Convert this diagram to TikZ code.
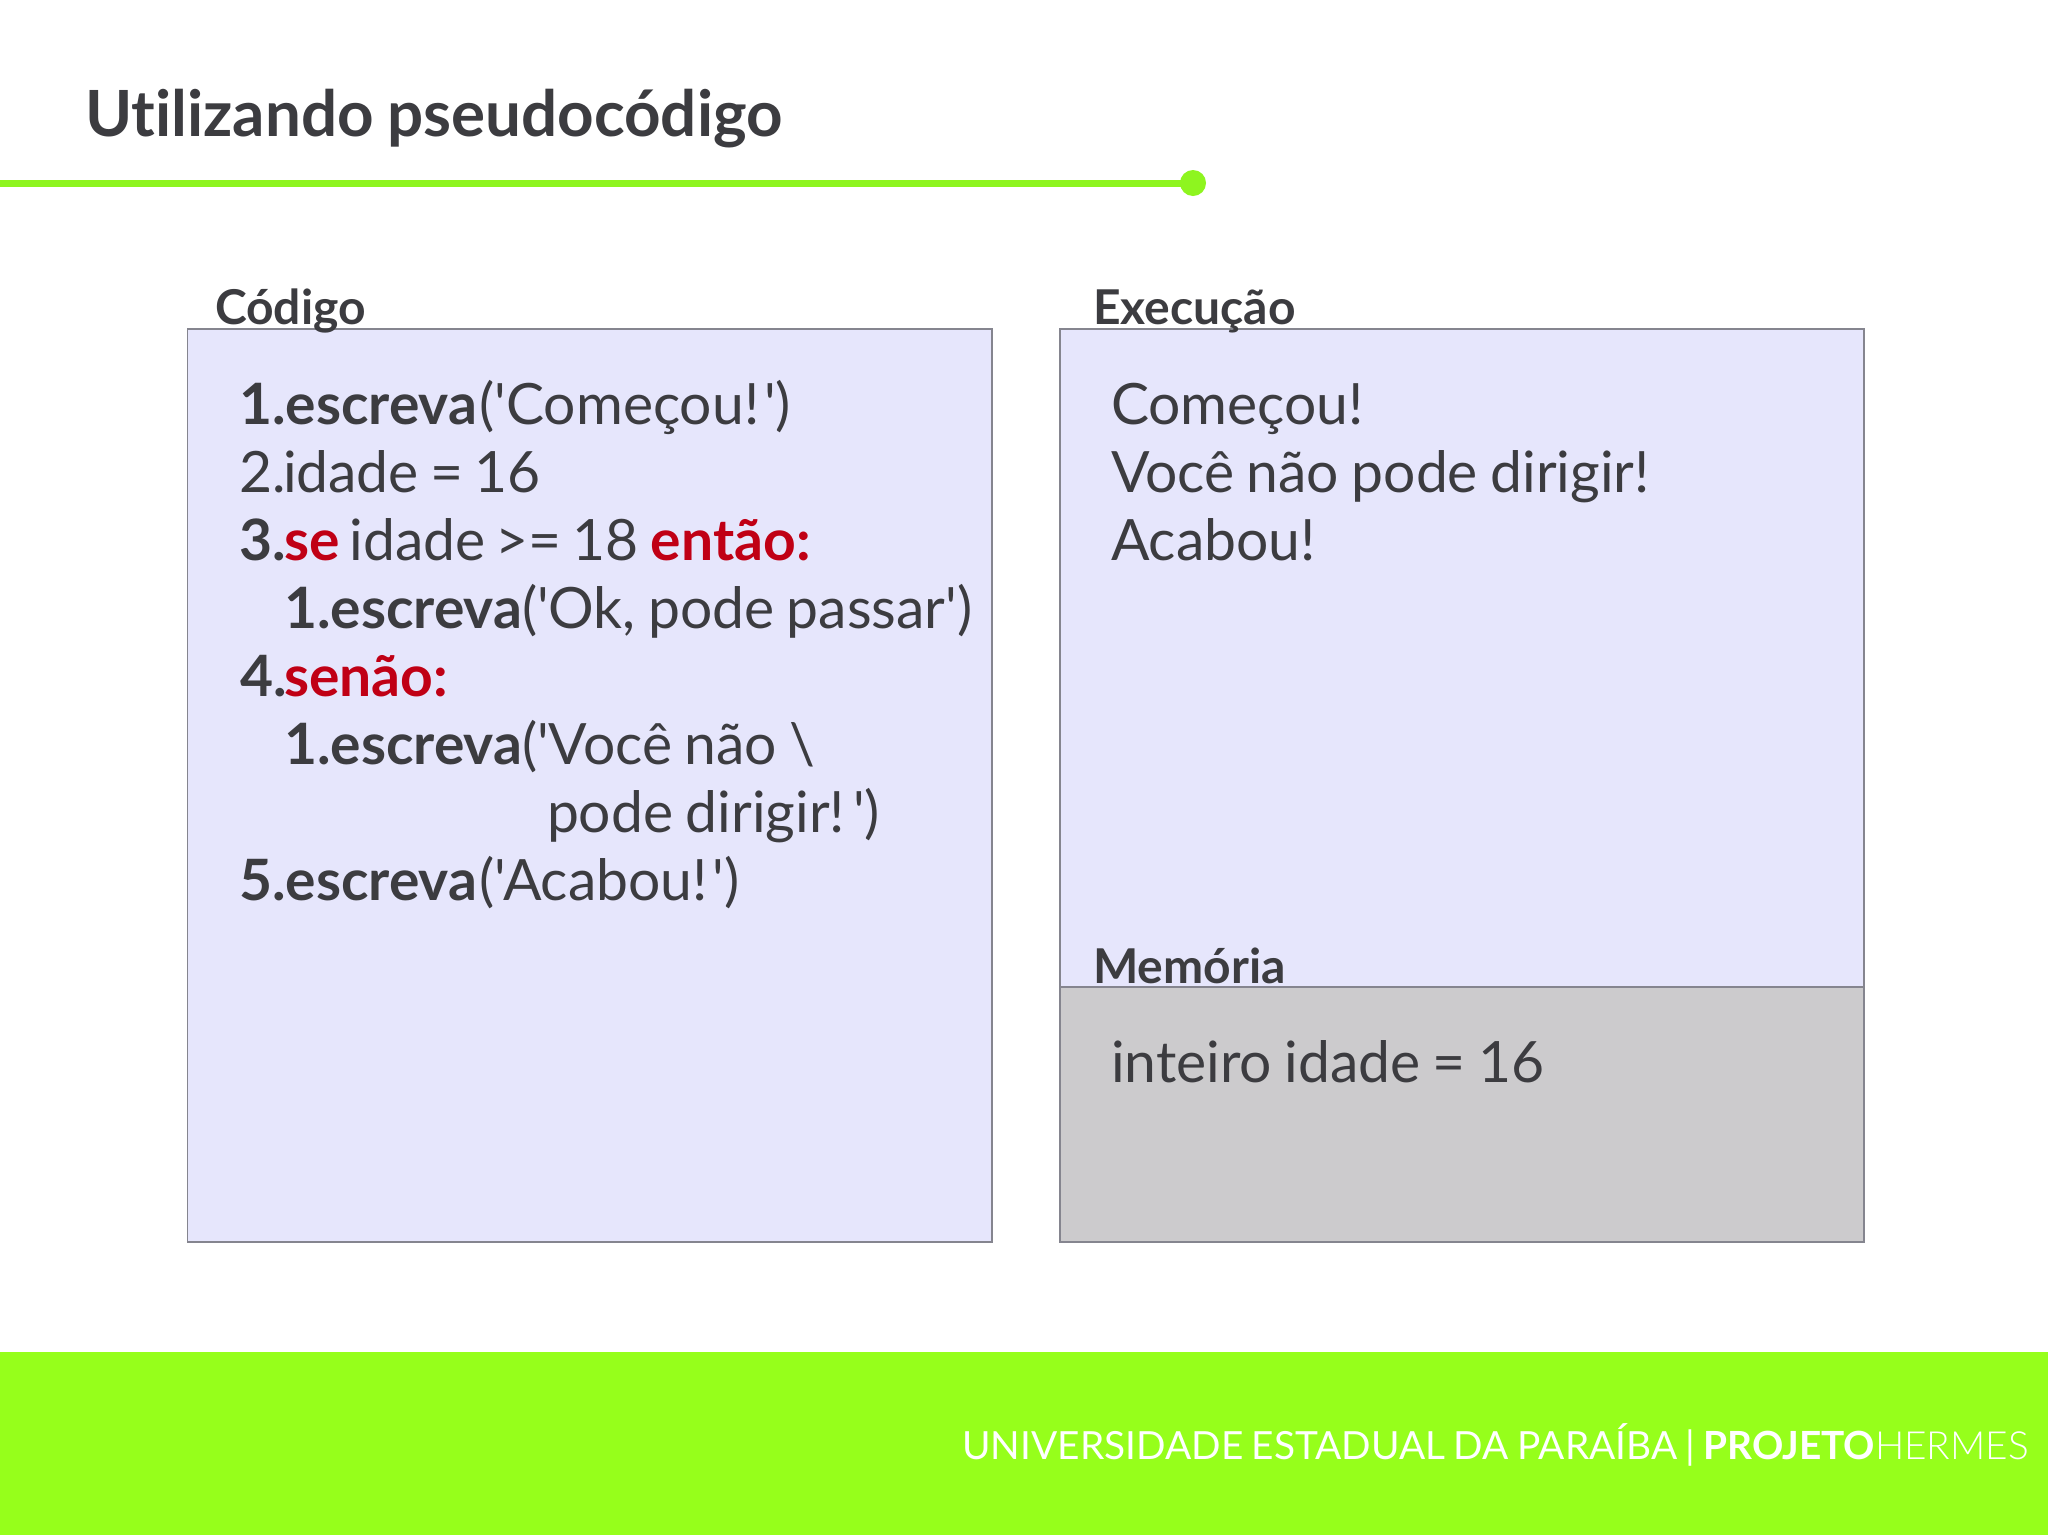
\documentclass[tikz,border=0pt]{standalone}
\usepackage{fontspec}
\setmainfont[Ligatures={NoCommon,NoRare,NoContextual},Mapping=,WordSpace=0.85]{Lato}
\newfontfamily\latolight{Lato Light}
\definecolor{ink}{HTML}{3C3C40}
\definecolor{redkw}{HTML}{C00015}
\definecolor{lav}{HTML}{E6E6FC}
\definecolor{memgray}{HTML}{CCCBCD}
\definecolor{edge}{HTML}{85858F}
\definecolor{limeline}{HTML}{8EF51F}
\definecolor{limefoot}{HTML}{96FF1B}
\newcommand{\kw}[1]{\textcolor{redkw}{\textbf{#1}}}
\tikzset{
  txt/.style={anchor=base west,inner sep=0pt,outer sep=0pt,text=ink},
  codeline/.style={txt,font=\fontsize{57}{68}\selectfont},
  heading/.style={txt,font=\fontsize{48}{54}\selectfont\bfseries},
  panel/.style={draw=edge,line width=1.2pt,fill=lav},
  mempanel/.style={draw=edge,line width=1.2pt,fill=memgray}
}
\begin{document}
\begin{tikzpicture}[x=1pt,y=-1pt]
\useasboundingbox (0,0) rectangle (2048,1535);
\fill[white] (0,0) rectangle (2048,1535);
\fill[limefoot] (0,1352) rectangle (2048,1535);
\draw[limeline,line width=7pt] (0,183) -- (1192,183);
\fill[limeline] (1193,183) circle (13);
\node[txt,font=\fontsize{63.7}{74}\selectfont\bfseries] (title) at (85,136) {Utilizando pseudocódigo};
\draw[panel] (187.5,329) rectangle (992,1242);
\draw[panel] (1060,329) rectangle (1864,987);
\draw[mempanel] (1060,987) rectangle (1864,1242);
\node[heading] (hcod) at (215,324) {Código};
\node[heading] (hexe) at (1093,324) {Execução};
\node[heading] (hmem) at (1093,983) {Memória};
\node[codeline] (c1) at (239,424) {\textbf{1.escreva}\kern2.5pt('Começou!\kern5pt')};
\node[codeline] (c2) at (239,492) {2.\kern-2.5pt idade \kern-1pt= \kern-1.5pt 16};
\node[codeline] (c3) at (239,560) {\textbf{3.}\kern-1.3pt\kw{se} \kern-2.7pt idade \kern-2pt>= \kern-2pt 18 \kw{então:}};
\node[codeline] (c4) at (284,628) {\textbf{1.escreva}('Ok, pode passar')};
\node[codeline] (c5) at (240,696) {\textbf{4.}\kern-2.5pt\kw{senão:}};
\node[codeline] (c6) at (284,764) {\textbf{1.escreva}('Você não \textbackslash};
\node[codeline] (c7) at (547,832) {pode dirigir!\kern8pt')};
\node[codeline] (c8) at (239,900) {\textbf{5.escreva}\kern2.5pt('Acabou!\kern5pt')};
\node[codeline] (e1) at (1111,424) {Começou!};
\node[codeline] (e2) at (1111,492) {Você não pode dirigir!};
\node[codeline] (e3) at (1111,560) {Acabou!};
\node[codeline] (m1) at (1111,1082) {inteiro idade = 16};
\node[txt,text=white,anchor=base east,font=\fontsize{38.8}{47}\selectfont] (foot) at (2029,1459)
  {UNIVERSIDADE ESTADUAL DA PARAÍBA | \textbf{PROJETO}{\latolight HERMES}};
\end{tikzpicture}
\end{document}
